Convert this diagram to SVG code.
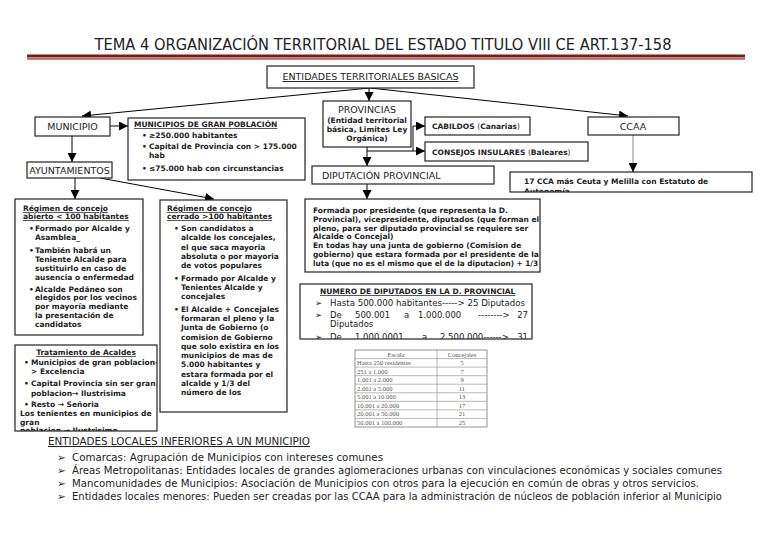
<svg xmlns="http://www.w3.org/2000/svg" width="768" height="543" viewBox="0 0 768 543">
<defs>
<marker id="ah" markerWidth="9" markerHeight="9" refX="9" refY="4.5" orient="auto" markerUnits="userSpaceOnUse"><path d="M0,0 L9,4.5 L0,9 z" fill="#000"/></marker>
<clipPath id="cGran"><rect x="128" y="118" width="177" height="62"/></clipPath>
<clipPath id="c17"><rect x="510" y="172" width="242" height="20"/></clipPath>
<clipPath id="cForm"><rect x="305" y="199" width="235" height="73"/></clipPath>
<clipPath id="cNum"><rect x="300" y="284" width="232" height="55"/></clipPath>
<clipPath id="cTrat"><rect x="15" y="345" width="142" height="86"/></clipPath>
<clipPath id="cCer"><rect x="160" y="200" width="127" height="212"/></clipPath>
</defs>
<style>
.box{fill:#fff;stroke:#222;stroke-width:1.2}
.lbl{font-family:"DejaVu Sans",sans-serif;font-size:9.5px;fill:#222}
.sm{font-family:"DejaVu Sans",sans-serif;font-size:7.5px;font-weight:bold;fill:#222}
.sr{font-family:"DejaVu Sans",sans-serif;font-size:8.5px;fill:#222}
.bl{font-family:"DejaVu Sans",sans-serif;font-size:10.5px;fill:#222}
.tb{font-family:"Liberation Serif",serif;font-size:6.5px;fill:#555}
.con{fill:none;stroke:#000;stroke-width:1}
</style>
<rect width="768" height="543" fill="#fff"/>

<g id="title">
<text x="383" y="50" text-anchor="middle" font-family="DejaVu Sans Condensed, DejaVu Sans, sans-serif" font-size="15" fill="#222" textLength="577" lengthAdjust="spacingAndGlyphs">TEMA 4 ORGANIZACIÓN TERRITORIAL DEL ESTADO TITULO VIII CE ART.137-158</text>
<rect x="27" y="54.5" width="718" height="2.5" fill="#7a1a1a"/>
<rect x="27" y="57" width="718" height="1.5" fill="#d08080"/>
<rect x="27" y="58.5" width="718" height="1" fill="#7a1a1a"/>
</g>

<g id="connectors">
<path class="con" d="M370,88 L82,116" marker-end="url(#ah)"/>
<path class="con" d="M370,88 L628,116" marker-end="url(#ah)"/>
<path class="con" d="M369,88 L369,101" marker-end="url(#ah)"/>
<path class="con" d="M367,147 L367,166" marker-end="url(#ah)"/>
<path class="con" d="M367,151 L425,151" marker-end="url(#ah)"/>
<path class="con" d="M413,151 L413,126 L425,126" marker-end="url(#ah)"/>
<path class="con" d="M110,126 L128,126" marker-end="url(#ah)"/>
<path class="con" d="M72,136 L72,162" marker-end="url(#ah)"/>
<path class="con" d="M75,178 L75,199" marker-end="url(#ah)"/>
<path class="con" d="M100,178 L214,199" marker-end="url(#ah)"/>
<path fill="none" stroke="#888" stroke-width="1" d="M633,135 L633,163"/>
<path class="con" d="M633,163 L633,172" marker-end="url(#ah)"/>
<path class="con" d="M367,184 L367,199" marker-end="url(#ah)"/>
</g>

<g id="entidades">
<rect class="box" x="267" y="66" width="207" height="22"/>
<text class="lbl" x="370.5" y="80" text-anchor="middle" text-decoration="underline">ENTIDADES TERRITORIALES BASICAS</text>
</g>

<g id="provincias">
<rect class="box" x="323" y="101" width="88" height="46"/>
<text class="lbl" x="367" y="113" text-anchor="middle" font-size="10">PROVINCIAS</text>
<text class="sm" x="367" y="123" text-anchor="middle" font-size="6.5">(Entidad territorial</text>
<text class="sm" x="367" y="132" text-anchor="middle" font-size="6.5">básica, Limites Ley</text>
<text class="sm" x="367" y="141" text-anchor="middle" font-size="6.5">Orgánica)</text>
</g>

<g id="cabildos">
<rect class="box" x="425" y="117" width="105" height="18"/>
<text class="sm" x="432" y="129">CABILDOS <tspan font-weight="normal">(</tspan>Canarias<tspan font-weight="normal">)</tspan></text>
</g>

<g id="consejos">
<rect class="box" x="425" y="142" width="163" height="19"/>
<text class="sm" x="432" y="155">CONSEJOS INSULARES <tspan font-weight="normal">(</tspan>Baleares<tspan font-weight="normal">)</tspan></text>
</g>

<g id="ccaa">
<rect class="box" x="588" y="117" width="91" height="18"/>
<text class="lbl" x="633" y="130" text-anchor="middle">CCAA</text>
</g>

<g id="ccaa17">
<rect class="box" x="510" y="172" width="242" height="20"/>
<g clip-path="url(#c17)">
<text class="sm" x="524" y="184">17 CCA más Ceuta y Melilla con Estatuto de</text>
<text class="sm" x="524" y="194">Autonomía</text>
</g>
</g>

<g id="municipio">
<rect class="box" x="35" y="117" width="75" height="19"/>
<text class="lbl" x="72.5" y="130" text-anchor="middle">MUNICIPIO</text>
</g>

<g id="granpoblacion">
<rect class="box" x="128" y="118" width="177" height="62"/>
<g clip-path="url(#cGran)">
<text class="sm" x="134" y="127" text-decoration="underline">MUNICIPIOS  DE GRAN POBLACIÓN</text>
<text class="sm" x="142" y="138">•</text><text class="sm" x="149" y="138">≥250.000 habitantes</text>
<text class="sm" x="142" y="149">•</text><text class="sm" x="149" y="149">Capital de Provincia con &gt; 175.000</text>
<text class="sm" x="149" y="158">hab</text>
<text class="sm" x="142" y="171">•</text><text class="sm" x="149" y="171">≤75.000 hab con circunstancias</text>
</g>
</g>

<g id="ayuntamientos">
<rect class="box" x="27" y="162" width="85" height="16"/>
<text class="lbl" x="69.5" y="174" text-anchor="middle">AYUNTAMIENTOS</text>
</g>

<g id="diputacion">
<rect class="box" x="312" y="166" width="182" height="18"/>
<text class="lbl" x="322" y="179">DIPUTACIÓN PROVINCIAL</text>
</g>

<g id="formada">
<rect class="box" x="305" y="199" width="235" height="73"/>
<g clip-path="url(#cForm)">
<text class="sm" x="313" y="213">Formada  por presidente (que representa la D.</text>
<text class="sm" x="313" y="222">Provincial), vicepresidente, diputados (que forman el</text>
<text class="sm" x="313" y="231">pleno, para ser diputado provincial se requiere ser</text>
<text class="sm" x="313" y="239">Alcalde o Concejal)</text>
<text class="sm" x="313" y="248">En todas hay una junta de gobierno  (Comision de</text>
<text class="sm" x="313" y="257">gobierno)   que estara formada  por el presidente de la</text>
<text class="sm" x="313" y="266" textLength="225" lengthAdjust="spacingAndGlyphs">luta (que no es el mismo que el de la diputacion) + 1/3</text>
</g>
</g>

<g id="numero">
<rect class="box" x="300" y="284" width="232" height="55"/>
<g clip-path="url(#cNum)">
<text class="sm" x="320" y="294" text-decoration="underline">NUMERO DE DIPUTADOS EN  LA D. PROVINCIAL</text>
<text class="sr" x="315" y="306" font-size="7">➢</text><text class="sr" x="330" y="306" textLength="195" lengthAdjust="spacingAndGlyphs">Hasta 500.000 habitantes-----&gt; 25 Diputados</text>
<text class="sr" x="315" y="318" font-size="7">➢</text><text class="sr" x="330" y="318">De</text><text class="sr" x="355" y="318">500.001</text><text class="sr" x="404" y="318">a</text><text class="sr" x="418" y="318">1.000.000</text><text class="sr" x="478" y="318">--------&gt;</text><text class="sr" x="528" y="318" text-anchor="end">27</text>
<text class="sr" x="330" y="327">Diputados</text>
<text class="sr" x="315" y="340" font-size="7">➢</text><text class="sr" x="330" y="340">De</text><text class="sr" x="355" y="340">1.000.0001</text><text class="sr" x="422" y="340">a</text><text class="sr" x="440" y="340">2.500.000------&gt;</text><text class="sr" x="528" y="340" text-anchor="end">31</text>
</g>
</g>

<g id="abierto">
<rect class="box" x="15" y="199" width="128" height="136"/>
<text class="sm" x="23" y="211" text-decoration="underline">Régimen de concejo</text>
<text class="sm" x="23" y="219" text-decoration="underline">abierto &lt; 100 habitantes</text>
<text class="sm" x="29" y="231">•</text><text class="sm" x="35" y="231">Formado por Alcalde y</text>
<text class="sm" x="35" y="240">Asamblea_</text>
<text class="sm" x="29" y="253">•</text><text class="sm" x="35" y="253">También habrá un</text>
<text class="sm" x="35" y="262">Teniente Alcalde para</text>
<text class="sm" x="35" y="271">sustituirlo en caso de</text>
<text class="sm" x="35" y="280">ausencia o enfermedad</text>
<text class="sm" x="29" y="292">•</text><text class="sm" x="35" y="292">Alcalde Pedáneo son</text>
<text class="sm" x="35" y="300">elegidos por los vecinos</text>
<text class="sm" x="35" y="309">por mayoría  mediante</text>
<text class="sm" x="35" y="318">la presentación de</text>
<text class="sm" x="35" y="327">candidatos</text>
</g>

<g id="cerrado">
<rect class="box" x="160" y="200" width="127" height="212"/>
<g clip-path="url(#cCer)">
<text class="sm" x="167" y="211" text-decoration="underline">Régimen de concejo</text>
<text class="sm" x="167" y="219" text-decoration="underline">cerrado &gt;100 habitantes</text>
<text class="sm" x="174" y="231">•</text><text class="sm" x="181" y="231">Son candidatos a</text>
<text class="sm" x="181" y="240">alcalde  los concejales,</text>
<text class="sm" x="181" y="249.5">el que saca mayoria</text>
<text class="sm" x="181" y="259">absoluta  o por mayoria</text>
<text class="sm" x="181" y="268">de votos populares</text>
<text class="sm" x="174" y="280.5">•</text><text class="sm" x="181" y="280.5">Formado por Alcalde y</text>
<text class="sm" x="181" y="290">Tenientes Alcalde  y</text>
<text class="sm" x="181" y="299">concejales</text>
<text class="sm" x="174" y="311.5">•</text><text class="sm" x="181" y="311.5">El Alcalde + Concejales</text>
<text class="sm" x="181" y="321">formaran el pleno y la</text>
<text class="sm" x="181" y="330">Junta de Gobierno (o</text>
<text class="sm" x="181" y="339.5">comision de Gobierno</text>
<text class="sm" x="181" y="349">que solo  existira en los</text>
<text class="sm" x="181" y="358">municipios de mas de</text>
<text class="sm" x="181" y="367">5.000 habitantes y</text>
<text class="sm" x="181" y="376.5">estara formada por el</text>
<text class="sm" x="181" y="386">alcalde y 1/3 del</text>
<text class="sm" x="181" y="395">número de los</text>
</g>
</g>

<g id="tratamiento">
<rect class="box" x="15" y="345" width="142" height="86"/>
<g clip-path="url(#cTrat)">
<text class="sm" x="86" y="355" text-anchor="middle" font-size="7" text-decoration="underline">Tratamiento de Acaldes</text>
<text class="sm" x="24" y="365" font-size="7">•</text><text class="sm" x="31" y="365" font-size="7">Municipios de gran poblacion-</text>
<text class="sm" x="31" y="374" font-size="7">&gt; Excelencia</text>
<text class="sm" x="24" y="386" font-size="7">•</text><text class="sm" x="31" y="386" font-size="7">Capital  Provincia sin ser gran</text>
<text class="sm" x="31" y="396" font-size="7">poblacion→ Ilustrisima</text>
<text class="sm" x="24" y="407" font-size="7">•</text><text class="sm" x="31" y="407" font-size="7">Resto → Señoria</text>
<text class="sm" x="20" y="416" font-size="7">Los tenientes en municipios de</text>
<text class="sm" x="20" y="425" font-size="7">gran</text>
<text class="sm" x="20" y="433" font-size="6.5">poblacion → Ilustrisimo</text>
</g>
</g>

<g id="tabla">
<rect x="355" y="350" width="132" height="77" fill="#fff" stroke="#777" stroke-width="0.8"/>
<g stroke="#888" stroke-width="0.6">
<line x1="437" y1="350" x2="437" y2="427"/>
<line x1="355" y1="358.6" x2="487" y2="358.6"/>
<line x1="355" y1="367.1" x2="487" y2="367.1"/>
<line x1="355" y1="375.7" x2="487" y2="375.7"/>
<line x1="355" y1="384.2" x2="487" y2="384.2"/>
<line x1="355" y1="392.8" x2="487" y2="392.8"/>
<line x1="355" y1="401.3" x2="487" y2="401.3"/>
<line x1="355" y1="409.9" x2="487" y2="409.9"/>
<line x1="355" y1="418.4" x2="487" y2="418.4"/>
</g>
<text class="tb" x="396" y="356.5" text-anchor="middle">Escala</text>
<text class="tb" x="462" y="356.5" text-anchor="middle">Concejales</text>
<text class="tb" x="357" y="365">Hasta 250 residentes</text><text class="tb" x="462" y="365" text-anchor="middle">5</text>
<text class="tb" x="357" y="373.5">251 a 1.000</text><text class="tb" x="462" y="373.5" text-anchor="middle">7</text>
<text class="tb" x="357" y="382">1.001 a 2.000</text><text class="tb" x="462" y="382" text-anchor="middle">9</text>
<text class="tb" x="357" y="390.5">2.001 a 5.000</text><text class="tb" x="462" y="390.5" text-anchor="middle">11</text>
<text class="tb" x="357" y="399">5.001 a 10.000</text><text class="tb" x="462" y="399" text-anchor="middle">13</text>
<text class="tb" x="357" y="407.5">10.001 a 20.000</text><text class="tb" x="462" y="407.5" text-anchor="middle">17</text>
<text class="tb" x="357" y="416">20.001 a 50.000</text><text class="tb" x="462" y="416" text-anchor="middle">21</text>
<text class="tb" x="357" y="424.5">50.001 a 100.000</text><text class="tb" x="462" y="424.5" text-anchor="middle">25</text>
</g>

<g id="inferiores">
<text class="bl" x="48" y="445" font-size="10" text-decoration="underline" textLength="262" lengthAdjust="spacingAndGlyphs">ENTIDADES  LOCALES INFERIORES A UN MUNICIPIO</text>
<text class="bl" x="57" y="461" font-size="8">➢</text><text class="bl" x="72" y="461" textLength="311" lengthAdjust="spacingAndGlyphs">Comarcas: Agrupación de Municipios con intereses  comunes</text>
<text class="bl" x="57" y="474" font-size="8">➢</text><text class="bl" x="72" y="474" textLength="650" lengthAdjust="spacingAndGlyphs">Áreas Metropolitanas: Entidades locales  de grandes aglomeraciones urbanas con  vinculaciones económicas y sociales comunes</text>
<text class="bl" x="57" y="487" font-size="8">➢</text><text class="bl" x="72" y="487" textLength="627" lengthAdjust="spacingAndGlyphs">Mancomunidades de Municipios: Asociación de  Municipios con otros  para la ejecución en común de obras y otros servicios.</text>
<text class="bl" x="57" y="500" font-size="8">➢</text><text class="bl" x="72" y="500" textLength="650" lengthAdjust="spacingAndGlyphs">Entidades locales menores: Pueden ser creadas por las CCAA para la administración de núcleos de población inferior al Municipio</text>
</g>
</svg>
